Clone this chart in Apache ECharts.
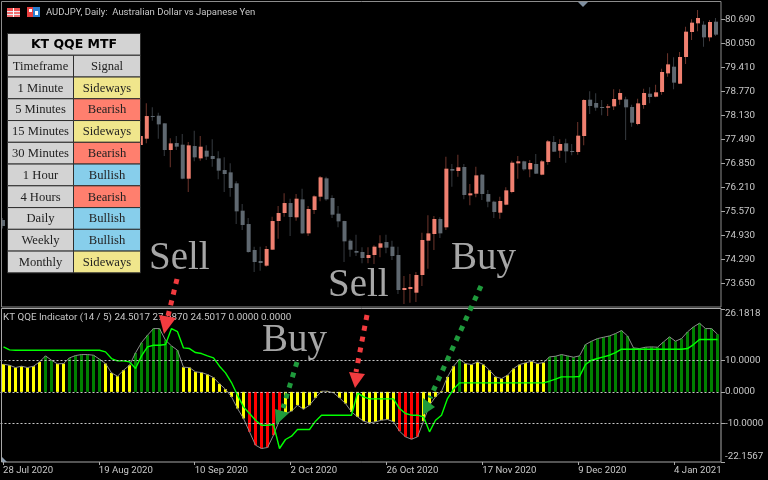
<!DOCTYPE html>
<html>
<head>
<meta charset="utf-8">
<title>AUDJPY KT QQE</title>
<style>
  html, body { margin: 0; padding: 0; background: #000; }
  #main { width: 768px; height: 480px; }
</style>
<script src="https://cdn.jsdelivr.net/npm/echarts@6/dist/echarts.min.js"></script>
</head>
<body>
<div id="main"></div>
<script>
// trading days on the chart, 25 Dec and 1 Jan are not in the feed
var dates = [
  '28 Jul 2020','29 Jul 2020','30 Jul 2020','31 Jul 2020','3 Aug 2020','4 Aug 2020','5 Aug 2020','6 Aug 2020','7 Aug 2020','10 Aug 2020',
  '11 Aug 2020','12 Aug 2020','13 Aug 2020','14 Aug 2020','17 Aug 2020','18 Aug 2020','19 Aug 2020','20 Aug 2020','21 Aug 2020','24 Aug 2020',
  '25 Aug 2020','26 Aug 2020','27 Aug 2020','28 Aug 2020','31 Aug 2020','1 Sep 2020','2 Sep 2020','3 Sep 2020','4 Sep 2020','7 Sep 2020',
  '8 Sep 2020','9 Sep 2020','10 Sep 2020','11 Sep 2020','14 Sep 2020','15 Sep 2020','16 Sep 2020','17 Sep 2020','18 Sep 2020','21 Sep 2020',
  '22 Sep 2020','23 Sep 2020','24 Sep 2020','25 Sep 2020','28 Sep 2020','29 Sep 2020','30 Sep 2020','1 Oct 2020','2 Oct 2020','5 Oct 2020',
  '6 Oct 2020','7 Oct 2020','8 Oct 2020','9 Oct 2020','12 Oct 2020','13 Oct 2020','14 Oct 2020','15 Oct 2020','16 Oct 2020','19 Oct 2020',
  '20 Oct 2020','21 Oct 2020','22 Oct 2020','23 Oct 2020','26 Oct 2020','27 Oct 2020','28 Oct 2020','29 Oct 2020','30 Oct 2020','2 Nov 2020',
  '3 Nov 2020','4 Nov 2020','5 Nov 2020','6 Nov 2020','9 Nov 2020','10 Nov 2020','11 Nov 2020','12 Nov 2020','13 Nov 2020','16 Nov 2020',
  '17 Nov 2020','18 Nov 2020','19 Nov 2020','20 Nov 2020','23 Nov 2020','24 Nov 2020','25 Nov 2020','26 Nov 2020','27 Nov 2020','30 Nov 2020',
  '1 Dec 2020','2 Dec 2020','3 Dec 2020','4 Dec 2020','7 Dec 2020','8 Dec 2020','9 Dec 2020','10 Dec 2020','11 Dec 2020','14 Dec 2020',
  '15 Dec 2020','16 Dec 2020','17 Dec 2020','18 Dec 2020','21 Dec 2020','22 Dec 2020','23 Dec 2020','24 Dec 2020','28 Dec 2020','29 Dec 2020',
  '30 Dec 2020','31 Dec 2020','4 Jan 2021','5 Jan 2021','6 Jan 2021','7 Jan 2021','8 Jan 2021','11 Jan 2021','12 Jan 2021','13 Jan 2021'
];

// candles, the ones behind the table cannot be read so they stay null
var _ = null;
var candleOpen = [75.348,75.162,_,_,_,_,_,_,_,_,_,_,_,_,_,_,_,_,_,_,_,_,_,77.348,
  77.517,78.121,78.130,77.926,77.215,77.401,77.357,76.450,77.321,76.992,77.197,77.055,76.992,76.681,76.619,76.326,
  75.597,75.241,74.548,74.255,74.130,74.557,75.321,75.535,75.801,75.419,75.899,74.992,75.615,75.970,76.459,75.935,
  75.517,75.321,74.797,74.521,74.495,74.335,74.415,74.610,74.761,74.637,74.415,73.481,73.508,73.410,73.881,74.797,
  74.975,75.375,75.153,76.708,76.655,76.762,76.006,76.050,76.557,76.041,75.837,75.544,75.757,76.095,76.859,76.913,
  76.699,76.842,76.557,76.895,77.428,77.197,77.393,77.188,77.162,77.588,78.557,78.468,78.362,78.344,78.379,78.557,
  78.566,78.362,77.908,78.415,78.717,78.637,78.762,79.259,79.437,78.984,79.695,80.362,80.593,80.557,80.219,80.637];
var candleClose = [75.188,75.428,_,_,_,_,_,_,_,_,_,_,_,_,_,_,_,_,_,_,_,_,_,77.588,
  78.121,78.104,77.899,77.215,77.392,77.304,76.450,77.339,77.019,77.304,77.037,76.975,76.664,76.575,76.201,75.579,
  75.215,74.495,74.228,74.201,74.575,75.321,75.535,75.801,75.428,75.917,74.992,75.641,75.979,76.486,75.899,75.490,
  75.312,74.779,74.557,74.477,74.335,74.415,74.637,74.726,74.610,74.388,73.481,73.535,73.561,73.881,74.815,74.992,
  75.375,74.992,76.717,76.664,76.753,76.015,76.059,76.539,76.041,75.837,75.562,75.855,76.139,76.877,76.913,76.699,
  76.868,76.584,76.913,77.446,77.170,77.375,77.179,77.162,77.597,78.548,78.388,78.344,78.344,78.379,78.575,78.735,
  78.353,77.944,78.459,78.735,78.628,78.753,79.295,79.499,79.011,79.695,80.371,80.611,80.735,80.219,80.628,80.291];
var candleHigh = [75.400,75.470,_,_,_,_,_,_,_,_,_,_,_,_,_,_,_,_,_,_,_,_,_,77.722,
  78.459,78.352,78.210,77.926,77.526,77.588,77.641,77.428,77.730,77.588,77.339,77.499,77.179,77.019,76.859,76.379,
  75.775,75.401,74.637,74.637,74.655,75.437,75.721,76.059,75.917,76.041,76.184,75.721,76.006,76.521,76.504,76.006,
  75.721,75.330,74.832,74.957,74.619,74.619,74.672,74.939,74.957,74.797,74.637,73.855,73.908,73.961,75.010,75.472,
  75.455,75.419,77.037,76.842,77.090,76.842,76.308,76.771,76.575,76.148,75.864,75.970,76.219,76.930,77.055,76.930,
  76.948,77.108,76.948,77.482,77.588,77.499,77.517,77.375,77.962,78.566,78.779,78.726,78.548,78.442,78.833,78.833,
  78.637,78.424,78.584,78.851,78.886,78.957,79.384,79.793,79.686,79.828,80.504,80.699,80.948,80.646,80.682,80.735];
var candleLow = [75.120,75.110,_,_,_,_,_,_,_,_,_,_,_,_,_,_,_,_,_,_,_,_,_,77.268,
  77.392,77.997,77.517,77.055,76.752,77.215,76.432,76.095,76.912,76.930,76.948,76.770,76.432,76.095,75.970,75.241,
  75.081,74.477,73.961,73.997,74.104,74.548,74.850,75.437,74.921,75.330,74.975,74.921,75.508,75.846,75.864,75.401,
  75.152,74.228,74.370,74.388,74.192,74.192,74.175,74.352,74.459,74.281,73.375,73.108,73.144,73.161,73.588,74.050,
  74.548,74.868,75.082,76.237,76.504,75.899,75.739,75.953,75.882,75.686,75.402,75.384,75.739,76.059,76.450,76.664,
  76.486,76.575,76.539,76.824,77.162,77.002,76.877,77.073,77.090,77.339,78.175,78.264,78.139,78.122,78.282,78.424,
  77.482,77.837,77.873,78.317,78.459,78.619,78.691,79.171,78.833,78.975,79.508,80.148,80.379,79.971,80.113,80.255];

// QQE histogram, y = sideways, g = bullish, r = bearish
var qqeHist = [8.74,8.42,7.68,8.11,7.68,8.11,9.47,11.37,10.00,8.84,8.95,10.74,11.47,11.79,11.79,11.58,10.32,8.95,6.00,4.95,
  6.84,8.42,12.32,15.58,17.89,20.00,20.00,16.32,14.53,13.16,7.79,7.68,6.32,6.11,5.47,4.53,2.53,0.84,-1.58,-5.26,
  -8.42,-12.63,-16.84,-17.89,-17.58,-13.68,-8.95,-6.84,-6.11,-4.21,-5.47,-4.21,-1.89,0.21,0.21,-0.32,-1.89,-3.68,-6.32,-7.89,
  -9.26,-9.79,-9.47,-8.95,-8.74,-9.47,-12.42,-14.21,-14.95,-14.21,-9.26,-4.21,-1.58,0.21,4.74,8.11,10.32,8.95,8.63,9.47,
  8.63,6.84,4.74,4.21,5.26,7.37,8.63,9.16,9.68,8.95,9.26,11.05,11.26,11.79,11.37,10.95,11.37,14.95,16.00,16.84,
  17.26,17.68,18.42,19.37,17.68,13.89,13.68,14.11,14.21,14.11,15.79,17.37,16.00,16.84,18.95,20.53,21.68,20.00,20.00,18.21];
var qqeState = 'yyyyyyyggyyggggggyyyyyggggggggyyyyyyyyyyyrrrrrryyyyyyyyyyyyyyyyyyyrrrryyyyyygyyyyyyyyyyyyyygggggggggggggggggggggggggggggg'.split('');
var qqeSignal = [14.21,13.26,13.16,13.16,13.16,13.16,13.16,13.16,13.16,13.16,13.16,13.16,13.16,13.16,13.16,13.16,13.16,12.63,10.53,9.79,
  9.79,9.47,7.37,11.37,14.21,14.74,14.74,14.95,20.00,19.00,13.89,13.68,12.42,12.11,11.37,10.74,8.11,6.00,2.95,-1.05,
  -4.74,-6.84,-8.95,-10.53,-10.53,-10.32,-17.89,-15.05,-14.00,-11.89,-11.89,-11.89,-9.26,-7.37,-7.37,-7.37,-7.37,-7.37,-7.37,-0.32,
  -1.58,-2.21,-2.21,-2.21,-2.21,-2.21,-5.26,-6.84,-7.37,-7.37,-7.89,-12.63,-8.95,-7.37,-2.11,0.84,2.84,2.84,2.84,2.84,
  2.84,2.84,2.84,2.84,2.84,2.84,2.84,2.84,2.84,2.84,2.84,3.37,4.00,4.74,4.74,4.74,4.84,8.63,10.00,10.53,
  11.05,11.58,12.42,13.47,13.47,13.47,13.47,13.47,13.47,13.47,13.47,13.47,13.47,13.47,13.68,14.95,16.53,16.53,16.53,16.53];
var qqeLevels = [10, 0, -10];

var priceTicks = [73.65,74.29,74.93,75.57,76.21,76.85,77.49,78.13,78.77,79.41,80.05,80.69];
var qqeTicks = [-22.1567,-10,0,10,26.1818];

var tableTitle = 'KT QQE MTF';
var tableHead = ['Timeframe', 'Signal'];
var timeframes = ['1 Minute','5 Minutes','15 Minutes','30 Minutes','1 Hour','4 Hours','Daily','Weekly','Monthly'];
var signals = ['Sideways','Bearish','Sideways','Bearish','Bullish','Bearish','Bullish','Bullish','Sideways'];

var GRAY = '#a8a8a8';
var LABEL = '#c8c8c8';
var signalColor = { Sideways: '#f0e68c', Bearish: '#ff7f6e', Bullish: '#87ceeb' };
var histColor = { y: '#ffff00', g: '#008000', r: '#ff0000' };

function renderCandle(params, api) {
  var o = api.value(1), c = api.value(2), l = api.value(3), h = api.value(4);
  if (isNaN(o)) return;
  var x = api.coord([api.value(0), o])[0];
  var yo = api.coord([0, o])[1], yc = api.coord([0, c])[1];
  var yl = api.coord([0, l])[1], yh = api.coord([0, h])[1];
  var up = c >= o;
  var top = Math.min(yo, yc), bodyH = Math.max(Math.abs(yo - yc), 1);
  return {
    type: 'group',
    children: [
      { type: 'rect', shape: { x: x - 1, y: yh, width: 1, height: yl - yh }, style: { fill: up ? '#6e352c' : '#363b40' } },
      { type: 'rect', shape: { x: x - 2, y: top, width: 4, height: bodyH }, style: { fill: up ? '#f08070' : '#5f6870' } }
    ]
  };
}

// table, frame and hand drawn notes
var notes = [];
function txt(s, x, y, font, fill, align) {
  notes.push({ type: 'text', z: 60, silent: true, style: { text: s, x: x, y: y, font: font, fill: fill, align: align || 'left', verticalAlign: 'middle' } });
}
function box(x, y, w, h, fill, stroke) {
  notes.push({ type: 'rect', z: 55, silent: true, shape: { x: x, y: y, width: w, height: h }, style: { fill: fill, stroke: stroke || null, lineWidth: 1 } });
}
function dotted(x1, y1, x2, y2, color) {
  notes.push({ type: 'line', z: 65, silent: true, shape: { x1: x1, y1: y1, x2: x2, y2: y2 }, style: { stroke: color, lineWidth: 5, lineDash: [5, 6] } });
}
function head(pts, color) {
  notes.push({ type: 'polygon', z: 65, silent: true, shape: { points: pts }, style: { fill: color } });
}

var tx0 = 7.5, tx1 = 73.5, tx2 = 140.5, ty0 = 33.5, rowH = 21.76;
var cellFont = '12.6px "Liberation Serif"';
box(tx0, ty0, tx2 - tx0, rowH, '#d3d3d3', '#2e2e2e');
txt(tableTitle, (tx0 + tx2) / 2, ty0 + rowH / 2 + 0.5, 'bold 12.5px "DejaVu Sans"', '#000', 'center');
box(tx0, ty0 + rowH, tx1 - tx0, rowH, '#d3d3d3', '#2e2e2e');
box(tx1, ty0 + rowH, tx2 - tx1, rowH, '#d3d3d3', '#2e2e2e');
txt(tableHead[0], (tx0 + tx1) / 2, ty0 + rowH * 1.5 + 0.5, cellFont, '#222', 'center');
txt(tableHead[1], (tx1 + tx2) / 2, ty0 + rowH * 1.5 + 0.5, cellFont, '#222', 'center');
timeframes.forEach(function (tf, i) {
  var y = ty0 + rowH * (i + 2);
  box(tx0, y, tx1 - tx0, rowH, '#d3d3d3', '#2e2e2e');
  box(tx1, y, tx2 - tx1, rowH, signalColor[signals[i]], '#2e2e2e');
  txt(tf, (tx0 + tx1) / 2, y + rowH / 2 + 0.5, cellFont, '#222', 'center');
  txt(signals[i], (tx1 + tx2) / 2, y + rowH / 2 + 0.5, cellFont, '#222', 'center');
});

// panel frames
function frame(x, y, w, h, color) {
  notes.push({ type: 'rect', z: 50, silent: true, shape: { x: x, y: y, width: w, height: h }, style: { fill: 'transparent', stroke: color, lineWidth: 1 } });
}
frame(1.5, 1.5, 719.5, 305.5, '#8c8c8c');
frame(1.5, 308.5, 719.5, 153.5, GRAY);
head([[578, 2], [588, 2], [583, 7]], '#7f8fa0');
head([[2, 457], [2, 462], [7, 462]], '#8fa0b0');

// chart window icons
box(7, 8, 13, 9, '#e8e8f0', null);
box(7, 8, 13, 3, '#f05050', null);
box(7, 12, 13, 2, '#f07070', null);
box(7, 15, 13, 2, '#f07070', null);
box(13, 8, 1, 9, '#fff', null);
box(27, 7, 6, 10, '#e84040', null);
box(33, 7, 7, 10, '#2a7fd0', null);
box(29, 9, 3, 3, '#fff', null);
box(35, 11, 3, 4, '#fff', null);

txt('AUDJPY, Daily:  Australian Dollar vs Japanese Yen', 46, 12.5, '9.5px Roboto', LABEL);
txt('KT QQE Indicator (14 / 5) 24.5017 27.5870 24.5017 0.0000 0.0000', 3, 317.5, '9.8px Roboto', LABEL);

var noteFont = '39px "Liberation Serif"';
txt('Sell', 149, 259, noteFont, '#a6a6a6');
txt('Sell', 328, 286, noteFont, '#a6a6a6');
txt('Buy', 262, 341, noteFont, '#a6a6a6');
txt('Buy', 451, 259, noteFont, '#a6a6a6');

var RED = '#f23b3f', GREEN = '#1f9a3c';
dotted(177, 279, 168, 316, RED);
head([[159, 315], [176, 318], [164, 334]], RED);
dotted(367, 315, 356, 372, RED);
head([[349, 372], [365, 374], [355, 388]], RED);
dotted(297, 362, 283, 408, GREEN);
head([[275, 409], [289, 413], [276, 425]], GREEN);
dotted(481, 286, 430, 398, GREEN);
head([[423, 398], [435, 407], [423, 415]], GREEN);

var option = {
  backgroundColor: '#000',
  animation: false,
  grid: [
    { left: -1, top: 2, width: 720, height: 304 },
    { left: 0.5, top: 309, width: 720, height: 153 },
    { left: -1, top: 309, width: 720, height: 153 }
  ],
  xAxis: [
    { type: 'category', gridIndex: 0, data: dates, show: false },
    { type: 'category', gridIndex: 1, data: dates, show: false },
    // dates sit on their own grid, ticks line up with the candles above
    {
      type: 'category', gridIndex: 2, data: dates,
      axisLine: { show: false },
      axisTick: { show: true, length: 3, alignWithLabel: true, interval: function (i) { return i % 16 === 0; }, lineStyle: { color: GRAY } },
      axisLabel: {
        color: LABEL, fontFamily: 'Roboto', fontSize: 9.6, margin: 4, align: 'left',
        interval: function (i) { return i % 16 === 0; }
      }
    }
  ],
  yAxis: [
    {
      type: 'value', gridIndex: 0, position: 'right', offset: 2, min: 73.055, max: 81.162,
      splitLine: { show: false }, axisLine: { show: false },
      axisTick: { show: true, length: 4, customValues: priceTicks, lineStyle: { color: GRAY } },
      axisLabel: {
        customValues: priceTicks, color: LABEL, fontFamily: 'Roboto', fontSize: 9.8, margin: 4,
        formatter: function (v) { return v.toFixed(3); }
      }
    },
    {
      type: 'value', gridIndex: 1, position: 'right', offset: 0.5, min: -22.1567, max: 26.1818,
      splitLine: { show: false }, axisLine: { show: false },
      axisTick: { show: true, length: 4, customValues: qqeTicks, lineStyle: { color: GRAY } },
      axisLabel: {
        customValues: qqeTicks, color: LABEL, fontFamily: 'Roboto', fontSize: 9.8, margin: 4,
        verticalAlignMaxLabel: 'top', verticalAlignMinLabel: 'bottom',
        formatter: function (v) { return v.toFixed(4); }
      }
    },
    { type: 'value', gridIndex: 2, show: false }
  ],
  series: [
    {
      name: 'AUDJPY', type: 'custom', xAxisIndex: 0, yAxisIndex: 0, renderItem: renderCandle,
      encode: { x: 0, y: [1, 2, 3, 4] },
      data: dates.map(function (d, i) { return [i, candleOpen[i], candleClose[i], candleLow[i], candleHigh[i]]; })
    },
    {
      name: 'QQE', type: 'bar', xAxisIndex: 1, yAxisIndex: 1, barWidth: 3,
      data: qqeHist.map(function (v, i) { return { value: v, itemStyle: { color: histColor[qqeState[i]] } }; })
    },
    {
      name: 'QQE line', type: 'line', xAxisIndex: 1, yAxisIndex: 1, data: qqeHist, symbol: 'none', z: 3,
      lineStyle: { color: '#8c8c8c', width: 1 },
      markLine: {
        silent: true, symbol: 'none', label: { show: false },
        lineStyle: { color: '#c8c8c8', type: [2, 2], width: 1 },
        data: qqeLevels.map(function (v) { return { yAxis: v }; })
      }
    },
    {
      name: 'Signal', type: 'line', xAxisIndex: 1, yAxisIndex: 1, data: qqeSignal, symbol: 'none', z: 4,
      lineStyle: { color: '#00ff00', width: 1.4 }
    }
  ],
  graphic: notes
};

var chart = echarts.init(document.getElementById('main'), null, { width: 768, height: 480 });
chart.setOption(option);
</script>
</body>
</html>
